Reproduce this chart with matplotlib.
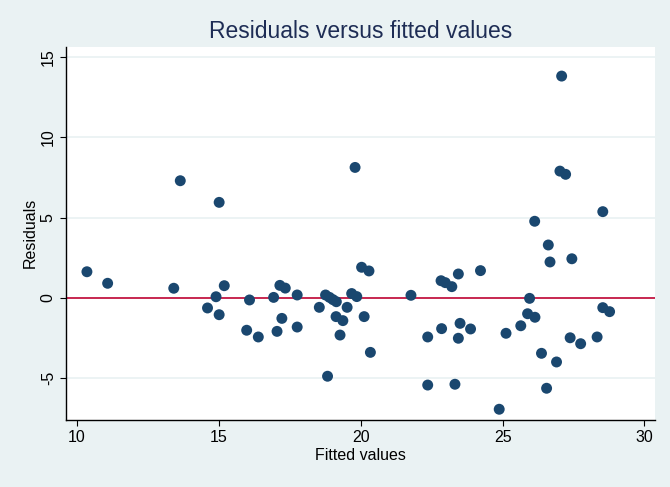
import matplotlib
matplotlib.use("Agg")
import matplotlib.pyplot as plt

# fitted values / residuals
fitted = [10.35, 11.08, 13.64, 13.41, 15.01, 15.19, 14.90, 14.60, 15.01, 16.08,
          15.98, 16.39, 16.93, 17.05, 17.15, 17.34, 17.22, 17.76, 17.76, 18.54,
          18.83, 18.76, 18.90, 19.02, 19.14, 19.13, 19.37, 19.27, 19.52, 19.68,
          19.86, 19.80, 20.03, 20.29, 20.12, 20.34, 21.77, 22.83, 22.98, 23.21,
          23.44, 24.22, 22.36, 22.85, 23.50, 23.44, 23.87, 22.36, 23.32, 24.88,
          25.12, 25.64, 25.95, 25.88, 26.14, 26.13, 26.61, 26.67, 26.37, 26.90,
          26.55, 27.08, 27.02, 27.22, 27.44, 27.38, 27.75, 28.33, 28.53, 28.53,
          28.77]
resid = [1.62, 0.90, 7.30, 0.59, 5.95, 0.75, 0.06, -0.64, -1.06, -0.14,
         -2.03, -2.45, 0.02, -2.10, 0.77, 0.60, -1.29, 0.17, -1.83, -0.60,
         -4.90, 0.17, 0.02, -0.12, -0.25, -1.18, -1.43, -2.33, -0.60, 0.26,
         0.07, 8.13, 1.90, 1.67, -1.18, -3.41, 0.15, 1.06, 0.94, 0.69,
         1.48, 1.69, -2.45, -1.93, -1.60, -2.53, -1.95, -5.45, -5.40, -6.96,
         -2.22, -1.75, -0.04, -1.00, -1.22, 4.77, 3.29, 2.23, -3.47, -4.01,
         -5.65, 13.83, 7.90, 7.70, 2.43, -2.50, -2.87, -2.45, 5.37, -0.62,
         -0.87]
xticks = [10, 15, 20, 25, 30]
yticks = [-5, 0, 5, 10, 15]

BG = "#eaf2f3"
NAVY = "#1a476f"

plt.rcParams["font.family"] = ["Liberation Sans", "DejaVu Sans"]

fig = plt.figure(figsize=(6.7, 4.87), dpi=100, facecolor=BG)
ax = fig.add_axes([0.0984, 0.1376, 0.8792, 0.7664])
ax.set_facecolor("white")

for yv in yticks:
    ax.axhline(yv, color=BG, lw=1.3, zorder=1)
ax.axhline(0, color="#c10534", lw=1.2, zorder=2)
ax.scatter(fitted, resid, s=62, color=NAVY, edgecolors="none", zorder=3)

ax.set_xlim(9.61, 30.37)
ax.set_ylim(-7.63, 15.66)
ax.set_xticks(xticks)
ax.set_yticks(yticks)
ax.set_yticklabels([str(v) for v in yticks], rotation=90, va="center")
ax.tick_params(labelsize=11.5, length=4.3, width=0.8, pad=3)

for side in ["top", "right"]:
    ax.spines[side].set_visible(False)
for side in ["left", "bottom"]:
    ax.spines[side].set_linewidth(1.0)

ax.set_xlabel("Fitted values", fontsize=11.5, labelpad=2)
ax.set_ylabel("Residuals", fontsize=11.5, labelpad=2.5)
ax.set_title("Residuals versus fitted values", fontsize=16.5, color="#1e2d55",
             pad=6)

fig.savefig("out.png", dpi=100, facecolor=BG)
